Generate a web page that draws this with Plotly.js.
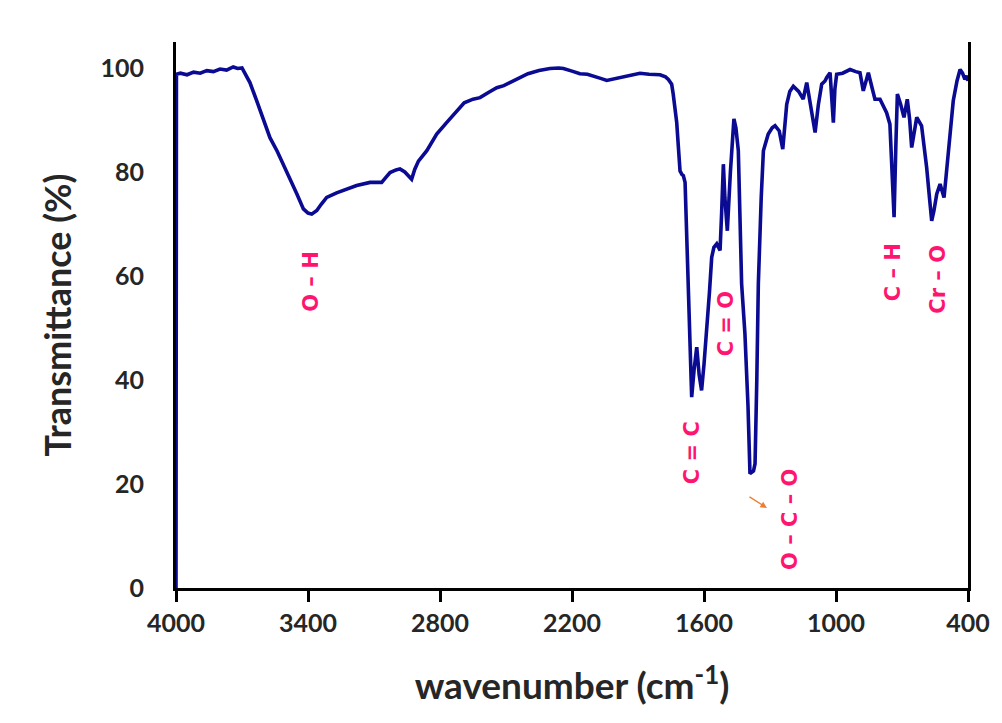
<!DOCTYPE html>
<html>
<head>
<meta charset="utf-8">
<script src="https://cdn.plot.ly/plotly-3.0.1.min.js"></script>
<style>
  html, body { margin: 0; padding: 0; background: #ffffff; }
  #chart { width: 1002px; height: 723px; }
</style>
</head>
<body>
<div id="chart"></div>
<script>
// FTIR spectrum: wavenumber (cm-1) and transmittance (%)
const wavenumber = [
  4000, 3998, 3980, 3950, 3920, 3890, 3860, 3830, 3800, 3770, 3740, 3720, 3700,
  3680, 3664, 3633, 3600, 3573, 3540, 3512, 3480, 3451, 3421, 3400, 3383, 3360,
  3340, 3315, 3270, 3220, 3179, 3118, 3065, 3045, 3027, 3000, 2982, 2960, 2951,
  2929, 2915, 2898, 2860, 2840, 2815, 2770, 2740, 2709, 2690, 2650, 2618, 2580,
  2542, 2510, 2482, 2440, 2400, 2350, 2300, 2260, 2239, 2200, 2164, 2130, 2103,
  2070, 2042, 2000, 1967, 1930, 1891, 1850, 1800, 1775, 1762, 1747, 1740, 1724,
  1715, 1709, 1700, 1694, 1686, 1678, 1671, 1663, 1656, 1645, 1633, 1622, 1611,
  1600, 1588, 1575, 1565, 1555, 1542, 1527, 1520, 1512, 1505, 1494, 1480, 1464,
  1455, 1444, 1429, 1414, 1400, 1391, 1375, 1368, 1360, 1353, 1340, 1330, 1308,
  1290, 1277, 1258, 1242, 1224, 1210, 1194, 1170, 1149, 1133, 1115, 1095, 1080,
  1065, 1050, 1042, 1027, 1012, 1005, 997, 970, 936, 910, 891, 876, 863, 853,
  835, 823, 800, 785, 770, 755, 745, 736, 728, 721, 706, 691, 676, 665, 656,
  645, 633, 611, 600, 588, 575, 565, 555, 542, 527, 509, 500, 489, 478, 467,
  450, 436, 425, 414, 405, 400
];
const transmittance = [
  0, 98.8, 99.0, 98.7, 99.2, 99.0, 99.5, 99.3, 99.8, 99.6, 100.2, 99.9, 100.0,
  98.5, 97.2, 93.7, 90.0, 86.6, 84.0, 81.5, 78.5, 75.8, 72.9, 72.1, 71.9, 72.6,
  73.8, 75.1, 76.0, 76.7, 77.4, 78.0, 78.0, 79.0, 79.9, 80.4, 80.6, 80.0, 79.6,
  78.6, 80.5, 82.1, 84.1, 85.6, 87.3, 89.5, 91.0, 92.4, 93.3, 94.0, 94.3, 95.3,
  96.2, 96.6, 97.2, 98.2, 98.9, 99.5, 99.9, 100.0, 99.9, 99.4, 98.9, 98.8, 98.5,
  98.0, 97.6, 98.0, 98.3, 98.7, 99.0, 98.8, 98.7, 98.3, 97.8, 96.9, 95.0, 89.5,
  84.0, 80.2, 79.5, 79.3, 78.0, 68.0, 58.5, 47.0, 36.7, 42.0, 46.3, 41.0, 38.0,
  43.0, 48.9, 57.0, 63.6, 65.5, 66.2, 64.9, 72.0, 81.5, 75.0, 68.7, 80.0, 90.2,
  88.5, 84.1, 58.5, 48.9, 35.0, 22.0, 22.5, 23.9, 40.0, 58.5, 75.0, 84.1, 87.3,
  88.5, 88.9, 87.9, 84.4, 93.0, 95.5, 96.5, 95.5, 94.0, 97.2, 93.0, 87.6, 93.0,
  96.9, 97.5, 98.2, 99.1, 89.5, 96.0, 98.8, 99.0, 99.7, 99.3, 99.1, 95.6, 98.0, 99.1,
  96.0, 94.0, 94.0, 92.5, 91.4, 89.2, 80.0, 71.3, 85.0, 95.0, 93.0, 90.5, 94.0, 90.0, 84.7,
  88.0, 90.5, 88.9, 85.5, 80.9, 75.0, 70.6, 72.5, 75.8, 77.7, 75.1, 79.0, 84.1, 89.0, 93.7,
  97.5, 99.7, 99.0, 97.8, 98.5, 97.5
];

// Band assignments (label text, centre wavenumber, centre transmittance)
const bandLabels = ['O – H', 'C = C', 'C = O', 'O – C – O', 'C – H', 'Cr – O'];
const bandX = [3386, 1655, 1500, 1209, 741, 536];
const bandY = [58.9, 26.1, 50.7, 13.1, 60.7, 59.3];

// Small pointer toward the O–C–O label: [tail wn, tail T, head wn, head T]
const pointer = [1400, 17.7, 1314, 15.4];

const xTicks = [4000, 3400, 2800, 2200, 1600, 1000, 400];
const yTicks = [0, 20, 40, 60, 80, 100];

const FONT = 'Lato, "Open Sans", sans-serif';
const PINK = '#ff1570';
const INK = '#262626';

const annotations = bandLabels.map((t, i) => ({
  x: bandX[i], y: bandY[i], xref: 'x', yref: 'y',
  text: t, showarrow: false, textangle: -90,
  font: { family: '"DejaVu Sans", sans-serif', size: 21, color: PINK, weight: 'bold' }
}));
annotations.push({
  x: pointer[2], y: pointer[3], ax: pointer[0], ay: pointer[1],
  xref: 'x', yref: 'y', axref: 'x', ayref: 'y',
  text: '', showarrow: true, arrowhead: 2, arrowsize: 1, arrowwidth: 1.3,
  arrowcolor: '#ed7d31', standoff: 0
});

const trace = {
  x: wavenumber, y: transmittance, type: 'scatter', mode: 'lines',
  line: { color: '#0a0a92', width: 3.6, shape: 'linear' },
  hoverinfo: 'x+y'
};

const layout = {
  width: 1002, height: 723,
  margin: { l: 176, r: 34, t: 42, b: 135 },
  paper_bgcolor: '#ffffff', plot_bgcolor: '#ffffff',
  showlegend: false,
  font: { family: FONT, color: INK },
  xaxis: {
    range: [4000, 400], tickvals: xTicks, ticktext: xTicks.map(String),
    showgrid: false, zeroline: false,
    showline: true, linecolor: '#000000', linewidth: 3, mirror: false,
    ticks: 'outside', ticklen: 11, tickwidth: 3, tickcolor: '#000000',
    tickfont: { family: FONT, size: 25, color: INK, weight: 'bold' },
    title: { text: 'wavenumber (cm<sup>-1</sup>)', standoff: 38,
             font: { family: FONT, size: 37, color: INK, weight: 'bold' } }
  },
  yaxis: {
    range: [0, 105], tickvals: yTicks, ticktext: yTicks.map(String),
    showgrid: false, zeroline: false,
    showline: true, linecolor: '#000000', linewidth: 3, mirror: true,
    ticks: '', ticklabelstandoff: 24,
    tickfont: { family: FONT, size: 25, color: INK, weight: 'bold' },
    title: { text: 'Transmittance (%)', standoff: 18,
             font: { family: FONT, size: 36, color: INK, weight: 'bold' } }
  },
  annotations: annotations
};

Plotly.newPlot('chart', [trace], layout, { displayModeBar: false, staticPlot: true });
</script>
</body>
</html>
